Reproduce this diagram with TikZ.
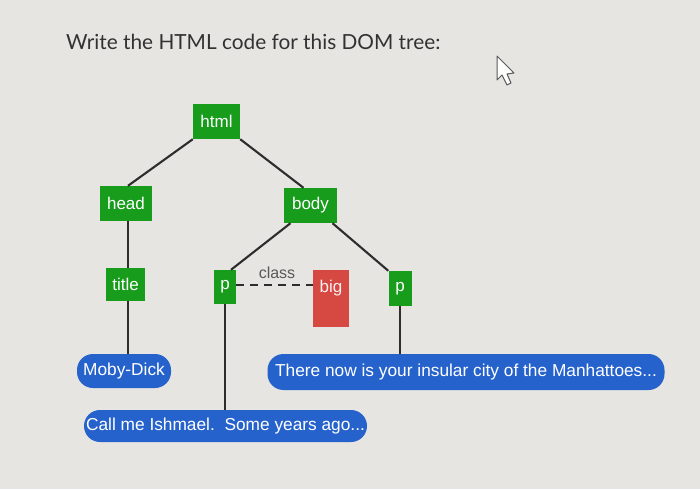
\documentclass[tikz,border=0pt]{standalone}
\usepackage{fontspec}
\setmainfont{Liberation Sans}
\newfontfamily\latofont{Lato}
\definecolor{bgc}{RGB}{231,229,226}
\definecolor{domgreen}{RGB}{24,156,28}
\definecolor{domred}{RGB}{214,72,66}
\definecolor{domblue}{RGB}{38,98,204}
\definecolor{edgec}{RGB}{45,45,45}
\definecolor{titlec}{RGB}{50,50,50}
\tikzset{
  tagbox/.style={fill=domgreen, text=white, inner sep=0pt, font=\fontsize{17}{19}\selectfont},
  textpill/.style={fill=domblue, text=white, rounded corners=16pt, inner sep=0pt, font=\fontsize{17.3}{19}\selectfont},
  treeedge/.style={draw=edgec, line width=2.1pt},
  attredge/.style={draw=edgec, line width=2pt, dash pattern=on 8pt off 6pt},
}
\begin{document}
\begin{tikzpicture}[x=1pt,y=-1pt]
\fill[bgc] (0,0) rectangle (700,489);
\useasboundingbox (0,0) rectangle (700,489);
\node[anchor=base west, text=titlec, font=\latofont\fontsize{20.8}{24}\selectfont, inner sep=0pt] (q) at (66,50) {Write the HTML code for this DOM tree:};
% cursor
\draw[draw=black!65, fill=white!92!bgc, line width=1pt, line join=round]
  (497,56) -- (497,80) -- (502,75) -- (507,85) -- (511,83) -- (507,74) -- (514,73) -- cycle;
% nodes
\node[tagbox, minimum width=47pt, minimum height=35pt] (html) at (216.5,121.5) {html};
\node[tagbox, minimum width=52pt, minimum height=35pt] (head) at (126,203.5) {head};
\node[tagbox, minimum width=53pt, minimum height=35pt] (body) at (310.5,205.5) {body};
\node[tagbox, minimum width=39pt, minimum height=33pt] (title) at (125.5,284.5) {title};
\node[tagbox, minimum width=22pt, minimum height=34pt] (p1) at (225,287) {p};
\node[fill=domred, minimum width=36pt, minimum height=57pt, inner sep=0pt] (big) at (331,298.5) {};
\node[text=white!92!domred, font=\fontsize{17}{19}\selectfont, inner sep=0pt] (bigtxt) at (331,288) {big};
\node[tagbox, minimum width=23pt, minimum height=35pt] (p2) at (400,288.5) {p};
\node[textpill, minimum width=94pt, minimum height=34pt] (moby) at (124,371) {Moby-Dick};
\node[textpill, minimum width=397pt, minimum height=36pt] (there) at (466,372) {There now is your insular city of the Manhattoes...};
\node[textpill, minimum width=283pt, minimum height=32pt] (call) at (225.5,426) {Call me Ishmael.\ \ Some years ago...};
\node[text=black!65, font=\fontsize{16}{18}\selectfont, inner sep=0pt] (cls) at (277,273) {class};
% edges
\draw[treeedge] (html.south west) -- ([xshift=2pt]head.north);
\draw[treeedge] (html.south east) -- ([xshift=-7pt]body.north);
\draw[treeedge] ([xshift=2pt]head.south) -- ([xshift=2.5pt]title.north);
\draw[treeedge] ([xshift=2.5pt]title.south) -- ([xshift=4pt]moby.north);
\draw[treeedge] ([xshift=-20pt]body.south) -- ([xshift=6pt]p1.north);
\draw[treeedge] ([xshift=22pt]body.south) -- (p2.north west);
\draw[treeedge] (p1.south) -- (p1.south |- call.north);
\draw[treeedge] (p2.south) -- (p2.south |- there.north);
\draw[attredge] ([yshift=2pt]p1.east) -- ([yshift=2pt]p1.east -| big.west);
\end{tikzpicture}
\end{document}
